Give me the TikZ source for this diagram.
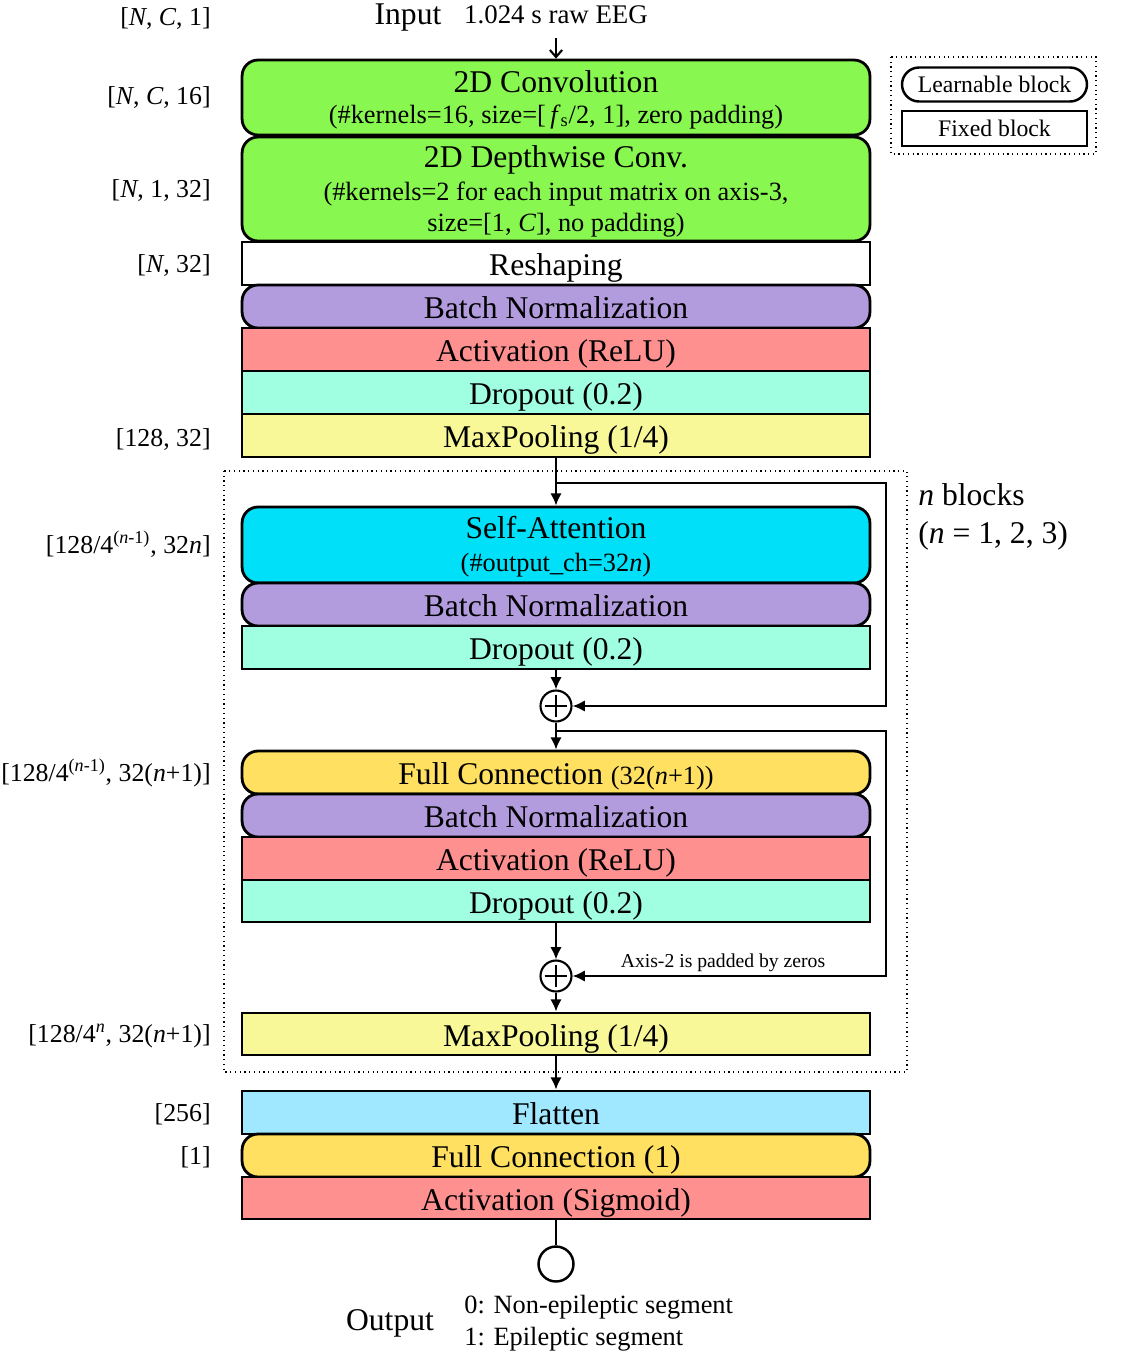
\documentclass[tikz,border=0pt]{standalone}
\usepackage{fontspec}
\setmainfont{Liberation Serif}
\usetikzlibrary{arrows.meta}
\definecolor{cgreen}{RGB}{136,248,80}
\definecolor{cpurple}{RGB}{178,156,222}
\definecolor{csalmon}{RGB}{255,144,144}
\definecolor{caqua}{RGB}{160,255,224}
\definecolor{cyellow}{RGB}{248,248,152}
\definecolor{ccyan}{RGB}{0,224,248}
\definecolor{cgold}{RGB}{255,224,96}
\definecolor{clblue}{RGB}{160,232,255}
\newcommand{\mainf}{\fontsize{18}{21}\selectfont}
\newcommand{\subf}{\fontsize{15}{17}\selectfont}
\newcommand{\lblf}{\fontsize{14.7}{17}\selectfont}
\begin{document}
\begin{tikzpicture}[x=0.02cm,y=-0.02cm,
  blk/.style={draw, line width=1.6pt, minimum width=12.56cm, inner sep=0pt, font=\mainf, text height=16pt, text depth=2pt},
  rblk/.style={blk, rounded corners=0.32cm},
  txt/.style={inner sep=0pt, anchor=base},
  lbl/.style={inner sep=0pt, anchor=base east, font=\lblf},
  arr/.style={-{Latex[length=7pt,width=6.5pt]}, line width=1.2pt},
  ln/.style={line width=1.2pt},
  plus/.style={draw, circle, line width=1.2pt, minimum size=0.62cm, inner sep=0pt},
  dotbox/.style={dotted, line width=0.7pt}
]
\useasboundingbox (0,0) rectangle (1125,1353);

% top labels
\node[txt, font=\mainf] (inlbl) at (408,24) {Input};
\node[txt, font=\fontsize{15.3}{18}\selectfont] (eeg) at (556,23) {1.024 s raw EEG};
\coordinate (instart) at (556,38);

% stage 1
\node[rblk, fill=cgreen, minimum height=1.5cm] (conv) at (556,97.5) {};
\node[txt, font=\mainf] (convt) at (556,92) {2D Convolution};
\node[txt, font=\subf] (convs) at (556,123) {(\#kernels=16, size=[\,\textit{f}\textsubscript{s}/2, 1], zero padding)};
\node[rblk, fill=cgreen, minimum height=2.08cm] (dw) at (556,189) {};
\node[txt, font=\mainf] (dwt) at (556,167) {2D Depthwise Conv.};
\node[txt, font=\subf] (dws1) at (556,200) {(\#kernels=2 for each input matrix on axis-3,};
\node[txt, font=\subf] (dws2) at (556,231) {size=[1, \textit{C}], no padding)};
\node[blk, fill=white, minimum height=0.86cm] (resh) at (556,263.5) {Reshaping};
\node[rblk, fill=cpurple, minimum height=0.86cm] (bn1) at (556,306.5) {Batch Normalization};
\node[blk, fill=csalmon, minimum height=0.86cm] (act1) at (556,349.5) {Activation (ReLU)};
\node[blk, fill=caqua, minimum height=0.86cm] (dr1) at (556,392.5) {Dropout (0.2)};
\node[blk, fill=cyellow, minimum height=0.86cm] (mp1) at (556,435.5) {MaxPooling (1/4)};

% n blocks
\draw[dotbox] (224,471) rectangle (907,1072);
\node[txt, font=\mainf, anchor=base west] (nb1) at (918,505) {\textit{n} blocks};
\node[txt, font=\mainf, anchor=base west] (nb2) at (918,543) {(\textit{n} = 1, 2, 3)};

\node[rblk, fill=ccyan, minimum height=1.52cm] (sa) at (556,545) {};
\node[txt, font=\mainf] (sat) at (556,538) {Self-Attention};
\node[txt, font=\subf] (sas) at (556,571) {(\#output\_ch=32\textit{n})};
\node[rblk, fill=cpurple, minimum height=0.86cm] (bn2) at (556,604.5) {Batch Normalization};
\node[blk, fill=caqua, minimum height=0.86cm] (dr2) at (556,647.5) {Dropout (0.2)};
\node[plus] (p1) at (556,706) {};
\draw[ln] ([yshift=-3pt]p1.north) -- ([yshift=3pt]p1.south);
\draw[ln] ([xshift=3pt]p1.west) -- ([xshift=-3pt]p1.east);

\node[rblk, fill=cgold, minimum height=0.86cm] (fc) at (556,772.5) {Full Connection {\subf (32(\textit{n}+1))}};
\node[rblk, fill=cpurple, minimum height=0.86cm] (bn3) at (556,815.5) {Batch Normalization};
\node[blk, fill=csalmon, minimum height=0.86cm] (act3) at (556,858.5) {Activation (ReLU)};
\node[blk, fill=caqua, minimum height=0.84cm] (dr3) at (556,901) {Dropout (0.2)};
\node[plus] (p2) at (556,976) {};
\draw[ln] ([yshift=-3pt]p2.north) -- ([yshift=3pt]p2.south);
\draw[ln] ([xshift=3pt]p2.west) -- ([xshift=-3pt]p2.east);
\node[txt, font=\fontsize{11.2}{13}\selectfont] (pad) at (723,967) {Axis-2 is padded by zeros};
\node[blk, fill=cyellow, minimum height=0.84cm] (mp2) at (556,1034) {MaxPooling (1/4)};

% final
\node[blk, fill=clblue, minimum height=0.86cm] (fl) at (556,1112.5) {Flatten};
\node[rblk, fill=cgold, minimum height=0.86cm] (fc1) at (556,1155.5) {Full Connection (1)};
\node[blk, fill=csalmon, minimum height=0.84cm] (sig) at (556,1198) {Activation (Sigmoid)};
\node[draw, circle, line width=1.4pt, minimum size=0.70cm, inner sep=0pt] (out) at (556,1264) {};
\node[txt, font=\mainf] (outl) at (390,1330) {Output};
\node[txt, font=\fontsize{15}{18}\selectfont, anchor=base west] (o0) at (464,1313) {0: Non-epileptic segment};
\node[txt, font=\fontsize{15}{18}\selectfont, anchor=base west] (o1) at (464,1345) {1: Epileptic segment};

% connectors
\draw[ln, -{Straight Barb[length=4pt,width=7pt]}] (instart) -- (conv.north);
\coordinate (j1) at (556,483);
\coordinate (k1) at (886,483);
\coordinate (k2) at (886,706);
\draw[arr] (mp1.south) -- (sa.north);
\draw[arr] (j1) -- (k1) -- (k2) -- (p1.east);
\draw[arr] (dr2.south) -- (p1.north);
\draw[arr] (p1.south) -- (fc.north);
\coordinate (j2) at (556,731);
\coordinate (k3) at (886,731);
\coordinate (k4) at (886,976);
\draw[arr] (j2) -- (k3) -- (k4) -- (p2.east);
\draw[arr] (dr3.south) -- (p2.north);
\draw[arr] (p2.south) -- (mp2.north);
\draw[arr] (mp2.south) -- (fl.north);
\draw[ln] (sig.south) -- (out.north);

% left labels
\node[lbl] (l1) at (211,25) {[\textit{N}, \textit{C}, 1]};
\node[lbl] (l2) at (211,104) {[\textit{N}, \textit{C}, 16]};
\node[lbl] (l3) at (211,197) {[\textit{N}, 1, 32]};
\node[lbl] (l4) at (211,272) {[\textit{N}, 32]};
\node[lbl] (l5) at (211,446) {[128, 32]};
\node[lbl] (l6) at (211,553) {[128/4\textsuperscript{(\textit{n}-1)}, 32\textit{n}]};
\node[lbl] (l7) at (211,781) {[128/4\textsuperscript{(\textit{n}-1)}, 32(\textit{n}+1)]};
\node[lbl] (l8) at (211,1042) {[128/4\textsuperscript{\textit{n}}, 32(\textit{n}+1)]};
\node[lbl] (l9) at (211,1121) {[256]};
\node[lbl] (l10) at (211,1164) {[1]};

% legend
\draw[dotbox] (891,57) rectangle (1096,154);
\node[draw, line width=1.4pt, rounded corners=0.34cm, minimum width=3.7cm, minimum height=0.68cm, inner sep=0pt, font=\fontsize{13.5}{16}\selectfont] (learn) at (994.5,84.5) {Learnable block};
\node[draw, line width=1.4pt, minimum width=3.7cm, minimum height=0.7cm, inner sep=0pt, font=\fontsize{13.5}{16}\selectfont] (fixed) at (994.5,128.5) {Fixed block};
\end{tikzpicture}
\end{document}
